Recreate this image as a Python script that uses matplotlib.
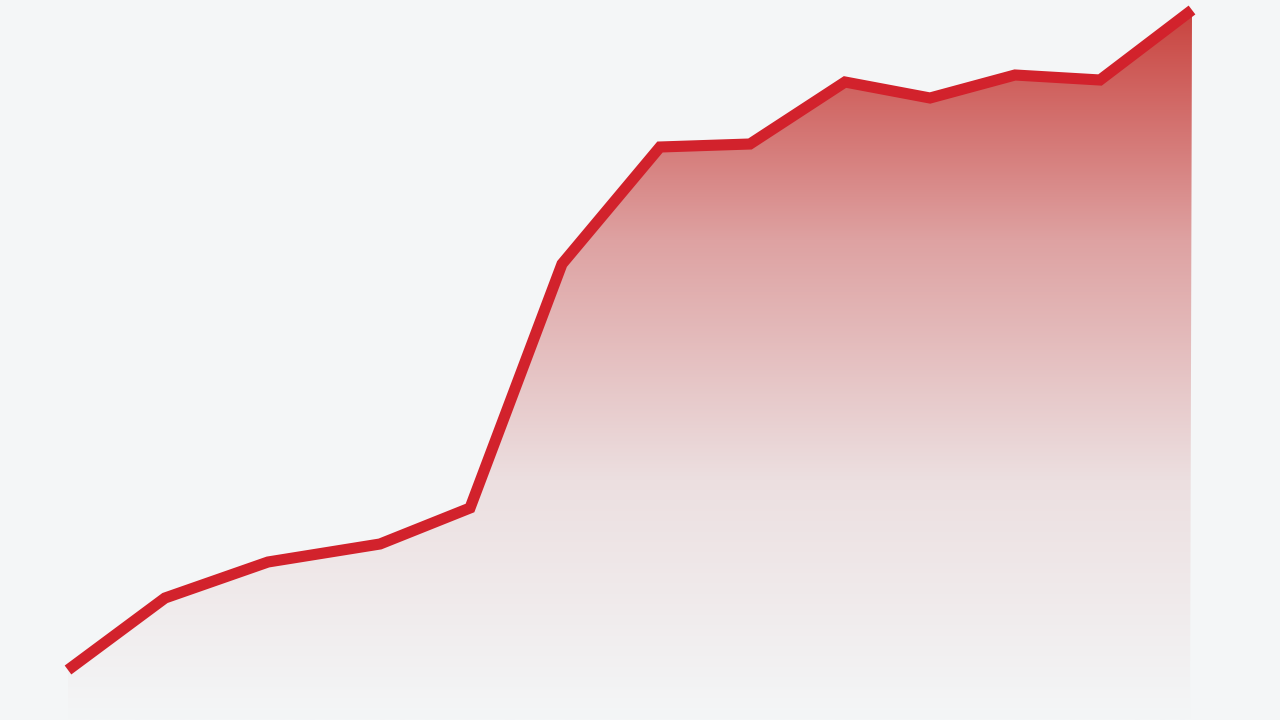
import numpy as np
import matplotlib.pyplot as plt
from matplotlib.colors import LinearSegmentedColormap
from matplotlib.patches import Polygon

# values (x position, level)
x_pos = [68, 165, 268, 380, 470, 562, 660, 750, 845, 930, 1015, 1100, 1192]
level = [50, 122, 158, 176, 212, 456, 573, 576, 638, 622, 645, 640, 710]

bg = '#f4f6f7'
red = '#d2222c'

fig = plt.figure(figsize=(12.8, 7.2), dpi=100, facecolor=bg)
ax = fig.add_axes([0, 0, 1, 1])
ax.set_facecolor(bg)
ax.set_xlim(0, 1280)
ax.set_ylim(0, 720)
ax.axis('off')

# gradient fill under the line
verts = [(x_pos[0], 0)] + list(zip(x_pos, level)) + [(x_pos[-1] - 2, 0)]
poly = Polygon(verts, closed=True, facecolor='none', edgecolor='none')
ax.add_patch(poly)
cmap = LinearSegmentedColormap.from_list('fade', [bg, '#ecdfe0', '#dea2a2', '#c83f3a'])
grad = np.linspace(0, 1, 256).reshape(-1, 1)
img = ax.imshow(grad, cmap=cmap, extent=[0, 1280, 0, 720], origin='lower',
                aspect='auto', zorder=1)
img.set_clip_path(poly)

ax.plot(x_pos, level, color=red, linewidth=8, solid_capstyle='butt',
        solid_joinstyle='miter', zorder=3)

fig.savefig('out.png', dpi=100, facecolor=bg)
